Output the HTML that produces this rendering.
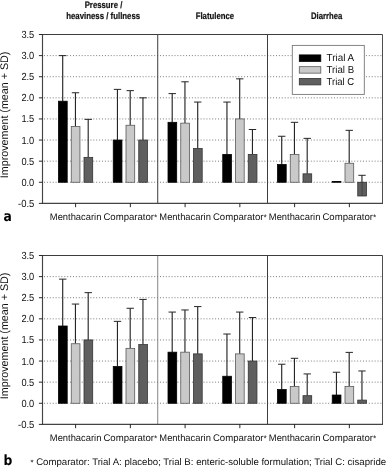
<!DOCTYPE html>
<html lang="en">
<head>
<meta charset="utf-8">
<title>Improvement (mean + SD)</title>
<style>
html,body{margin:0;padding:0;background:#fff;}
body{width:387px;height:469px;overflow:hidden;font-family:"Liberation Sans",Arial,sans-serif;}
svg{display:block;}
</style>
</head>
<body>
<svg width="387" height="469" viewBox="0 0 387 469" text-rendering="geometricPrecision" font-family='"Liberation Sans", Arial, sans-serif'>
<rect width="387" height="469" fill="#ffffff"/>
<g font-weight="bold" font-size="9.4" fill="#111" stroke="#111" stroke-width="0.2">
<text x="84.7" y="7.95" textLength="37.6" lengthAdjust="spacingAndGlyphs">Pressure /</text>
<text x="66.2" y="19.3" textLength="74" lengthAdjust="spacingAndGlyphs">heaviness / fullness</text>
<text x="195.7" y="19.4" textLength="38.5" lengthAdjust="spacingAndGlyphs">Flatulence</text>
<text x="310.9" y="19.4" textLength="31.4" lengthAdjust="spacingAndGlyphs">Diarrhea</text>
</g>
<line x1="44.0" x2="382.5" y1="55.61" y2="55.61" stroke="#6e6e6e" stroke-width="0.9" stroke-dasharray="1 1.9"/>
<line x1="44.0" x2="382.5" y1="76.72" y2="76.72" stroke="#6e6e6e" stroke-width="0.9" stroke-dasharray="1 1.9"/>
<line x1="44.0" x2="382.5" y1="97.83" y2="97.83" stroke="#6e6e6e" stroke-width="0.9" stroke-dasharray="1 1.9"/>
<line x1="44.0" x2="382.5" y1="118.94" y2="118.94" stroke="#6e6e6e" stroke-width="0.9" stroke-dasharray="1 1.9"/>
<line x1="44.0" x2="382.5" y1="140.05" y2="140.05" stroke="#6e6e6e" stroke-width="0.9" stroke-dasharray="1 1.9"/>
<line x1="44.0" x2="382.5" y1="161.16" y2="161.16" stroke="#6e6e6e" stroke-width="0.9" stroke-dasharray="1 1.9"/>
<line x1="44.0" x2="382.5" y1="182.27" y2="182.27" stroke="#6e6e6e" stroke-width="0.9" stroke-dasharray="1 1.9"/>
<line x1="62.70" x2="62.70" y1="55.61" y2="101.21" stroke="#262626" stroke-width="1.15"/>
<line x1="59.05" x2="66.45" y1="55.61" y2="55.61" stroke="#262626" stroke-width="1.0"/>
<rect x="58.50" y="101.21" width="8.7" height="81.06" fill="#000000" stroke="#000000" stroke-width="0.8"/>
<line x1="75.45" x2="75.45" y1="92.76" y2="126.54" stroke="#262626" stroke-width="1.15"/>
<line x1="71.80" x2="79.20" y1="92.76" y2="92.76" stroke="#262626" stroke-width="1.0"/>
<rect x="71.25" y="126.54" width="8.7" height="55.73" fill="#c9c9c9" stroke="#5a5a5a" stroke-width="0.8"/>
<line x1="88.20" x2="88.20" y1="119.36" y2="157.36" stroke="#262626" stroke-width="1.15"/>
<line x1="84.55" x2="91.95" y1="119.36" y2="119.36" stroke="#262626" stroke-width="1.0"/>
<rect x="84.00" y="157.36" width="8.7" height="24.91" fill="#5f5f5f" stroke="#333333" stroke-width="0.8"/>
<line x1="117.45" x2="117.45" y1="89.39" y2="140.05" stroke="#262626" stroke-width="1.15"/>
<line x1="113.80" x2="121.20" y1="89.39" y2="89.39" stroke="#262626" stroke-width="1.0"/>
<rect x="113.25" y="140.05" width="8.7" height="42.22" fill="#000000" stroke="#000000" stroke-width="0.8"/>
<line x1="130.20" x2="130.20" y1="90.65" y2="125.27" stroke="#262626" stroke-width="1.15"/>
<line x1="126.55" x2="133.95" y1="90.65" y2="90.65" stroke="#262626" stroke-width="1.0"/>
<rect x="126.00" y="125.27" width="8.7" height="57.00" fill="#c9c9c9" stroke="#5a5a5a" stroke-width="0.8"/>
<line x1="142.95" x2="142.95" y1="97.83" y2="140.05" stroke="#262626" stroke-width="1.15"/>
<line x1="139.30" x2="146.70" y1="97.83" y2="97.83" stroke="#262626" stroke-width="1.0"/>
<rect x="138.75" y="140.05" width="8.7" height="42.22" fill="#5f5f5f" stroke="#333333" stroke-width="0.8"/>
<line x1="172.20" x2="172.20" y1="93.61" y2="122.32" stroke="#262626" stroke-width="1.15"/>
<line x1="168.55" x2="175.95" y1="93.61" y2="93.61" stroke="#262626" stroke-width="1.0"/>
<rect x="168.00" y="122.32" width="8.7" height="59.95" fill="#000000" stroke="#000000" stroke-width="0.8"/>
<line x1="184.95" x2="184.95" y1="81.79" y2="123.16" stroke="#262626" stroke-width="1.15"/>
<line x1="181.30" x2="188.70" y1="81.79" y2="81.79" stroke="#262626" stroke-width="1.0"/>
<rect x="180.75" y="123.16" width="8.7" height="59.11" fill="#c9c9c9" stroke="#5a5a5a" stroke-width="0.8"/>
<line x1="197.70" x2="197.70" y1="102.05" y2="148.49" stroke="#262626" stroke-width="1.15"/>
<line x1="194.05" x2="201.45" y1="102.05" y2="102.05" stroke="#262626" stroke-width="1.0"/>
<rect x="193.50" y="148.49" width="8.7" height="33.78" fill="#5f5f5f" stroke="#333333" stroke-width="0.8"/>
<line x1="226.95" x2="226.95" y1="102.05" y2="154.40" stroke="#262626" stroke-width="1.15"/>
<line x1="223.30" x2="230.70" y1="102.05" y2="102.05" stroke="#262626" stroke-width="1.0"/>
<rect x="222.75" y="154.40" width="8.7" height="27.87" fill="#000000" stroke="#000000" stroke-width="0.8"/>
<line x1="239.70" x2="239.70" y1="78.83" y2="118.94" stroke="#262626" stroke-width="1.15"/>
<line x1="236.05" x2="243.45" y1="78.83" y2="78.83" stroke="#262626" stroke-width="1.0"/>
<rect x="235.50" y="118.94" width="8.7" height="63.33" fill="#c9c9c9" stroke="#5a5a5a" stroke-width="0.8"/>
<line x1="252.45" x2="252.45" y1="129.50" y2="154.40" stroke="#262626" stroke-width="1.15"/>
<line x1="248.80" x2="256.20" y1="129.50" y2="129.50" stroke="#262626" stroke-width="1.0"/>
<rect x="248.25" y="154.40" width="8.7" height="27.87" fill="#5f5f5f" stroke="#333333" stroke-width="0.8"/>
<line x1="281.70" x2="281.70" y1="136.25" y2="164.54" stroke="#262626" stroke-width="1.15"/>
<line x1="278.05" x2="285.45" y1="136.25" y2="136.25" stroke="#262626" stroke-width="1.0"/>
<rect x="277.50" y="164.54" width="8.7" height="17.73" fill="#000000" stroke="#000000" stroke-width="0.8"/>
<line x1="294.45" x2="294.45" y1="122.32" y2="154.40" stroke="#262626" stroke-width="1.15"/>
<line x1="290.80" x2="298.20" y1="122.32" y2="122.32" stroke="#262626" stroke-width="1.0"/>
<rect x="290.25" y="154.40" width="8.7" height="27.87" fill="#c9c9c9" stroke="#5a5a5a" stroke-width="0.8"/>
<line x1="307.20" x2="307.20" y1="138.36" y2="173.83" stroke="#262626" stroke-width="1.15"/>
<line x1="303.55" x2="310.95" y1="138.36" y2="138.36" stroke="#262626" stroke-width="1.0"/>
<rect x="303.00" y="173.83" width="8.7" height="8.44" fill="#5f5f5f" stroke="#333333" stroke-width="0.8"/>
<rect x="332.25" y="181.43" width="8.7" height="0.84" fill="#000000" stroke="#000000" stroke-width="0.8"/>
<line x1="349.20" x2="349.20" y1="130.34" y2="163.27" stroke="#262626" stroke-width="1.15"/>
<line x1="345.55" x2="352.95" y1="130.34" y2="130.34" stroke="#262626" stroke-width="1.0"/>
<rect x="345.00" y="163.27" width="8.7" height="19.00" fill="#c9c9c9" stroke="#5a5a5a" stroke-width="0.8"/>
<line x1="361.95" x2="361.95" y1="175.30" y2="195.99" stroke="#262626" stroke-width="1.15"/>
<line x1="358.30" x2="365.70" y1="175.30" y2="175.30" stroke="#262626" stroke-width="1.0"/>
<rect x="357.75" y="182.27" width="8.7" height="13.72" fill="#5f5f5f" stroke="#333333" stroke-width="0.8"/>
<line x1="362.10" x2="362.10" y1="182.27" y2="195.99" stroke="#3a3a3a" stroke-width="0.7"/>
<line x1="157.72" x2="157.72" y1="34.5" y2="203.38" stroke="#3d3d3d" stroke-width="1"/>
<line x1="267.50" x2="267.50" y1="34.5" y2="203.38" stroke="#3d3d3d" stroke-width="1"/>
<line x1="42.5" x2="382.5" y1="34.5" y2="34.5" stroke="#3d3d3d" stroke-width="1.05"/>
<line x1="382.5" x2="382.5" y1="34.5" y2="203.38" stroke="#4d4d4d" stroke-width="1"/>
<line x1="42.5" x2="42.5" y1="34.0" y2="203.88" stroke="#444444" stroke-width="1.15"/>
<line x1="42.5" x2="383.0" y1="203.38" y2="203.38" stroke="#444444" stroke-width="1.15"/>
<line x1="38.9" x2="42.5" y1="34.50" y2="34.50" stroke="#111" stroke-width="0.9"/>
<text x="21.40" y="37.95" font-size="10.3" textLength="12.9" lengthAdjust="spacingAndGlyphs" fill="#111">3.5</text>
<line x1="38.9" x2="42.5" y1="55.61" y2="55.61" stroke="#111" stroke-width="0.9"/>
<text x="21.40" y="59.06" font-size="10.3" textLength="12.9" lengthAdjust="spacingAndGlyphs" fill="#111">3.0</text>
<line x1="38.9" x2="42.5" y1="76.72" y2="76.72" stroke="#111" stroke-width="0.9"/>
<text x="21.40" y="80.17" font-size="10.3" textLength="12.9" lengthAdjust="spacingAndGlyphs" fill="#111">2.5</text>
<line x1="38.9" x2="42.5" y1="97.83" y2="97.83" stroke="#111" stroke-width="0.9"/>
<text x="21.40" y="101.28" font-size="10.3" textLength="12.9" lengthAdjust="spacingAndGlyphs" fill="#111">2.0</text>
<line x1="38.9" x2="42.5" y1="118.94" y2="118.94" stroke="#111" stroke-width="0.9"/>
<text x="21.40" y="122.39" font-size="10.3" textLength="12.9" lengthAdjust="spacingAndGlyphs" fill="#111">1.5</text>
<line x1="38.9" x2="42.5" y1="140.05" y2="140.05" stroke="#111" stroke-width="0.9"/>
<text x="21.40" y="143.50" font-size="10.3" textLength="12.9" lengthAdjust="spacingAndGlyphs" fill="#111">1.0</text>
<line x1="38.9" x2="42.5" y1="161.16" y2="161.16" stroke="#111" stroke-width="0.9"/>
<text x="21.40" y="164.61" font-size="10.3" textLength="12.9" lengthAdjust="spacingAndGlyphs" fill="#111">0.5</text>
<line x1="38.9" x2="42.5" y1="182.27" y2="182.27" stroke="#111" stroke-width="0.9"/>
<text x="21.40" y="185.72" font-size="10.3" textLength="12.9" lengthAdjust="spacingAndGlyphs" fill="#111">0.0</text>
<line x1="38.9" x2="42.5" y1="203.38" y2="203.38" stroke="#111" stroke-width="0.9"/>
<text x="18.00" y="206.83" font-size="10.3" textLength="16.3" lengthAdjust="spacingAndGlyphs" fill="#111">-0.5</text>
<line x1="75.60" x2="75.60" y1="203.38" y2="207.18" stroke="#111" stroke-width="0.9"/>
<text x="49.85" y="220.38" font-size="9.6" textLength="51.5" lengthAdjust="spacingAndGlyphs" fill="#111">Menthacarin</text>
<line x1="130.35" x2="130.35" y1="203.38" y2="207.18" stroke="#111" stroke-width="0.9"/>
<text x="103.40" y="220.38" font-size="9.6" textLength="53.9" lengthAdjust="spacingAndGlyphs" fill="#111">Comparator<tspan font-size="8.4" dy="-0.6">*</tspan></text>
<line x1="185.10" x2="185.10" y1="203.38" y2="207.18" stroke="#111" stroke-width="0.9"/>
<text x="159.35" y="220.38" font-size="9.6" textLength="51.5" lengthAdjust="spacingAndGlyphs" fill="#111">Menthacarin</text>
<line x1="239.85" x2="239.85" y1="203.38" y2="207.18" stroke="#111" stroke-width="0.9"/>
<text x="212.90" y="220.38" font-size="9.6" textLength="53.9" lengthAdjust="spacingAndGlyphs" fill="#111">Comparator<tspan font-size="8.4" dy="-0.6">*</tspan></text>
<line x1="294.60" x2="294.60" y1="203.38" y2="207.18" stroke="#111" stroke-width="0.9"/>
<text x="268.85" y="220.38" font-size="9.6" textLength="51.5" lengthAdjust="spacingAndGlyphs" fill="#111">Menthacarin</text>
<line x1="349.35" x2="349.35" y1="203.38" y2="207.18" stroke="#111" stroke-width="0.9"/>
<text x="322.40" y="220.38" font-size="9.6" textLength="53.9" lengthAdjust="spacingAndGlyphs" fill="#111">Comparator<tspan font-size="8.4" dy="-0.6">*</tspan></text>
<text transform="translate(8.0,178.20) rotate(-90)" font-size="11" textLength="126.6" lengthAdjust="spacingAndGlyphs" fill="#111">Improvement (mean + SD)</text>
<line x1="44.0" x2="382.5" y1="276.61" y2="276.61" stroke="#6e6e6e" stroke-width="0.9" stroke-dasharray="1 1.9"/>
<line x1="44.0" x2="382.5" y1="297.72" y2="297.72" stroke="#6e6e6e" stroke-width="0.9" stroke-dasharray="1 1.9"/>
<line x1="44.0" x2="382.5" y1="318.83" y2="318.83" stroke="#6e6e6e" stroke-width="0.9" stroke-dasharray="1 1.9"/>
<line x1="44.0" x2="382.5" y1="339.94" y2="339.94" stroke="#6e6e6e" stroke-width="0.9" stroke-dasharray="1 1.9"/>
<line x1="44.0" x2="382.5" y1="361.05" y2="361.05" stroke="#6e6e6e" stroke-width="0.9" stroke-dasharray="1 1.9"/>
<line x1="44.0" x2="382.5" y1="382.16" y2="382.16" stroke="#6e6e6e" stroke-width="0.9" stroke-dasharray="1 1.9"/>
<line x1="44.0" x2="382.5" y1="403.27" y2="403.27" stroke="#6e6e6e" stroke-width="0.9" stroke-dasharray="1 1.9"/>
<line x1="62.70" x2="62.70" y1="279.14" y2="326.01" stroke="#262626" stroke-width="1.15"/>
<line x1="59.05" x2="66.45" y1="279.14" y2="279.14" stroke="#262626" stroke-width="1.0"/>
<rect x="58.50" y="326.01" width="8.7" height="77.26" fill="#000000" stroke="#000000" stroke-width="0.8"/>
<line x1="75.45" x2="75.45" y1="304.05" y2="343.74" stroke="#262626" stroke-width="1.15"/>
<line x1="71.80" x2="79.20" y1="304.05" y2="304.05" stroke="#262626" stroke-width="1.0"/>
<rect x="71.25" y="343.74" width="8.7" height="59.53" fill="#c9c9c9" stroke="#5a5a5a" stroke-width="0.8"/>
<line x1="88.20" x2="88.20" y1="292.65" y2="339.94" stroke="#262626" stroke-width="1.15"/>
<line x1="84.55" x2="91.95" y1="292.65" y2="292.65" stroke="#262626" stroke-width="1.0"/>
<rect x="84.00" y="339.94" width="8.7" height="63.33" fill="#5f5f5f" stroke="#333333" stroke-width="0.8"/>
<line x1="117.45" x2="117.45" y1="321.36" y2="366.54" stroke="#262626" stroke-width="1.15"/>
<line x1="113.80" x2="121.20" y1="321.36" y2="321.36" stroke="#262626" stroke-width="1.0"/>
<rect x="113.25" y="366.54" width="8.7" height="36.73" fill="#000000" stroke="#000000" stroke-width="0.8"/>
<line x1="130.20" x2="130.20" y1="308.27" y2="348.38" stroke="#262626" stroke-width="1.15"/>
<line x1="126.55" x2="133.95" y1="308.27" y2="308.27" stroke="#262626" stroke-width="1.0"/>
<rect x="126.00" y="348.38" width="8.7" height="54.89" fill="#c9c9c9" stroke="#5a5a5a" stroke-width="0.8"/>
<line x1="142.95" x2="142.95" y1="299.41" y2="344.58" stroke="#262626" stroke-width="1.15"/>
<line x1="139.30" x2="146.70" y1="299.41" y2="299.41" stroke="#262626" stroke-width="1.0"/>
<rect x="138.75" y="344.58" width="8.7" height="58.69" fill="#5f5f5f" stroke="#333333" stroke-width="0.8"/>
<line x1="172.20" x2="172.20" y1="312.07" y2="352.18" stroke="#262626" stroke-width="1.15"/>
<line x1="168.55" x2="175.95" y1="312.07" y2="312.07" stroke="#262626" stroke-width="1.0"/>
<rect x="168.00" y="352.18" width="8.7" height="51.09" fill="#000000" stroke="#000000" stroke-width="0.8"/>
<line x1="184.95" x2="184.95" y1="309.96" y2="352.18" stroke="#262626" stroke-width="1.15"/>
<line x1="181.30" x2="188.70" y1="309.96" y2="309.96" stroke="#262626" stroke-width="1.0"/>
<rect x="180.75" y="352.18" width="8.7" height="51.09" fill="#c9c9c9" stroke="#5a5a5a" stroke-width="0.8"/>
<line x1="197.70" x2="197.70" y1="306.59" y2="353.87" stroke="#262626" stroke-width="1.15"/>
<line x1="194.05" x2="201.45" y1="306.59" y2="306.59" stroke="#262626" stroke-width="1.0"/>
<rect x="193.50" y="353.87" width="8.7" height="49.40" fill="#5f5f5f" stroke="#333333" stroke-width="0.8"/>
<line x1="226.95" x2="226.95" y1="334.03" y2="376.25" stroke="#262626" stroke-width="1.15"/>
<line x1="223.30" x2="230.70" y1="334.03" y2="334.03" stroke="#262626" stroke-width="1.0"/>
<rect x="222.75" y="376.25" width="8.7" height="27.02" fill="#000000" stroke="#000000" stroke-width="0.8"/>
<line x1="239.70" x2="239.70" y1="312.07" y2="353.87" stroke="#262626" stroke-width="1.15"/>
<line x1="236.05" x2="243.45" y1="312.07" y2="312.07" stroke="#262626" stroke-width="1.0"/>
<rect x="235.50" y="353.87" width="8.7" height="49.40" fill="#c9c9c9" stroke="#5a5a5a" stroke-width="0.8"/>
<line x1="252.45" x2="252.45" y1="317.56" y2="361.05" stroke="#262626" stroke-width="1.15"/>
<line x1="248.80" x2="256.20" y1="317.56" y2="317.56" stroke="#262626" stroke-width="1.0"/>
<rect x="248.25" y="361.05" width="8.7" height="42.22" fill="#5f5f5f" stroke="#333333" stroke-width="0.8"/>
<line x1="281.70" x2="281.70" y1="364.22" y2="389.55" stroke="#262626" stroke-width="1.15"/>
<line x1="278.05" x2="285.45" y1="364.22" y2="364.22" stroke="#262626" stroke-width="1.0"/>
<rect x="277.50" y="389.55" width="8.7" height="13.72" fill="#000000" stroke="#000000" stroke-width="0.8"/>
<line x1="294.45" x2="294.45" y1="358.31" y2="386.59" stroke="#262626" stroke-width="1.15"/>
<line x1="290.80" x2="298.20" y1="358.31" y2="358.31" stroke="#262626" stroke-width="1.0"/>
<rect x="290.25" y="386.59" width="8.7" height="16.68" fill="#c9c9c9" stroke="#5a5a5a" stroke-width="0.8"/>
<line x1="307.20" x2="307.20" y1="373.93" y2="395.67" stroke="#262626" stroke-width="1.15"/>
<line x1="303.55" x2="310.95" y1="373.93" y2="373.93" stroke="#262626" stroke-width="1.0"/>
<rect x="303.00" y="395.67" width="8.7" height="7.60" fill="#5f5f5f" stroke="#333333" stroke-width="0.8"/>
<line x1="336.45" x2="336.45" y1="372.24" y2="395.04" stroke="#262626" stroke-width="1.15"/>
<line x1="332.80" x2="340.20" y1="372.24" y2="372.24" stroke="#262626" stroke-width="1.0"/>
<rect x="332.25" y="395.04" width="8.7" height="8.23" fill="#000000" stroke="#000000" stroke-width="0.8"/>
<line x1="349.20" x2="349.20" y1="352.39" y2="386.38" stroke="#262626" stroke-width="1.15"/>
<line x1="345.55" x2="352.95" y1="352.39" y2="352.39" stroke="#262626" stroke-width="1.0"/>
<rect x="345.00" y="386.38" width="8.7" height="16.89" fill="#c9c9c9" stroke="#5a5a5a" stroke-width="0.8"/>
<line x1="361.95" x2="361.95" y1="370.97" y2="400.10" stroke="#262626" stroke-width="1.15"/>
<line x1="358.30" x2="365.70" y1="370.97" y2="370.97" stroke="#262626" stroke-width="1.0"/>
<rect x="357.75" y="400.10" width="8.7" height="3.17" fill="#5f5f5f" stroke="#333333" stroke-width="0.8"/>
<line x1="157.72" x2="157.72" y1="255.5" y2="424.38" stroke="#777" stroke-width="0.9"/>
<line x1="267.50" x2="267.50" y1="255.5" y2="424.38" stroke="#3d3d3d" stroke-width="1"/>
<line x1="42.5" x2="382.5" y1="255.5" y2="255.5" stroke="#3d3d3d" stroke-width="1.05"/>
<line x1="382.5" x2="382.5" y1="255.5" y2="424.38" stroke="#4d4d4d" stroke-width="1"/>
<line x1="42.5" x2="42.5" y1="255.0" y2="424.88" stroke="#444444" stroke-width="1.15"/>
<line x1="42.5" x2="383.0" y1="424.38" y2="424.38" stroke="#444444" stroke-width="1.15"/>
<line x1="38.9" x2="42.5" y1="255.50" y2="255.50" stroke="#111" stroke-width="0.9"/>
<text x="21.40" y="258.95" font-size="10.3" textLength="12.9" lengthAdjust="spacingAndGlyphs" fill="#111">3.5</text>
<line x1="38.9" x2="42.5" y1="276.61" y2="276.61" stroke="#111" stroke-width="0.9"/>
<text x="21.40" y="280.06" font-size="10.3" textLength="12.9" lengthAdjust="spacingAndGlyphs" fill="#111">3.0</text>
<line x1="38.9" x2="42.5" y1="297.72" y2="297.72" stroke="#111" stroke-width="0.9"/>
<text x="21.40" y="301.17" font-size="10.3" textLength="12.9" lengthAdjust="spacingAndGlyphs" fill="#111">2.5</text>
<line x1="38.9" x2="42.5" y1="318.83" y2="318.83" stroke="#111" stroke-width="0.9"/>
<text x="21.40" y="322.28" font-size="10.3" textLength="12.9" lengthAdjust="spacingAndGlyphs" fill="#111">2.0</text>
<line x1="38.9" x2="42.5" y1="339.94" y2="339.94" stroke="#111" stroke-width="0.9"/>
<text x="21.40" y="343.39" font-size="10.3" textLength="12.9" lengthAdjust="spacingAndGlyphs" fill="#111">1.5</text>
<line x1="38.9" x2="42.5" y1="361.05" y2="361.05" stroke="#111" stroke-width="0.9"/>
<text x="21.40" y="364.50" font-size="10.3" textLength="12.9" lengthAdjust="spacingAndGlyphs" fill="#111">1.0</text>
<line x1="38.9" x2="42.5" y1="382.16" y2="382.16" stroke="#111" stroke-width="0.9"/>
<text x="21.40" y="385.61" font-size="10.3" textLength="12.9" lengthAdjust="spacingAndGlyphs" fill="#111">0.5</text>
<line x1="38.9" x2="42.5" y1="403.27" y2="403.27" stroke="#111" stroke-width="0.9"/>
<text x="21.40" y="406.72" font-size="10.3" textLength="12.9" lengthAdjust="spacingAndGlyphs" fill="#111">0.0</text>
<line x1="38.9" x2="42.5" y1="424.38" y2="424.38" stroke="#111" stroke-width="0.9"/>
<text x="18.00" y="427.83" font-size="10.3" textLength="16.3" lengthAdjust="spacingAndGlyphs" fill="#111">-0.5</text>
<line x1="75.60" x2="75.60" y1="424.38" y2="428.18" stroke="#111" stroke-width="0.9"/>
<text x="49.85" y="441.38" font-size="9.6" textLength="51.5" lengthAdjust="spacingAndGlyphs" fill="#111">Menthacarin</text>
<line x1="130.35" x2="130.35" y1="424.38" y2="428.18" stroke="#111" stroke-width="0.9"/>
<text x="103.40" y="441.38" font-size="9.6" textLength="53.9" lengthAdjust="spacingAndGlyphs" fill="#111">Comparator<tspan font-size="8.4" dy="-0.6">*</tspan></text>
<line x1="185.10" x2="185.10" y1="424.38" y2="428.18" stroke="#111" stroke-width="0.9"/>
<text x="159.35" y="441.38" font-size="9.6" textLength="51.5" lengthAdjust="spacingAndGlyphs" fill="#111">Menthacarin</text>
<line x1="239.85" x2="239.85" y1="424.38" y2="428.18" stroke="#111" stroke-width="0.9"/>
<text x="212.90" y="441.38" font-size="9.6" textLength="53.9" lengthAdjust="spacingAndGlyphs" fill="#111">Comparator<tspan font-size="8.4" dy="-0.6">*</tspan></text>
<line x1="294.60" x2="294.60" y1="424.38" y2="428.18" stroke="#111" stroke-width="0.9"/>
<text x="268.85" y="441.38" font-size="9.6" textLength="51.5" lengthAdjust="spacingAndGlyphs" fill="#111">Menthacarin</text>
<line x1="349.35" x2="349.35" y1="424.38" y2="428.18" stroke="#111" stroke-width="0.9"/>
<text x="322.40" y="441.38" font-size="9.6" textLength="53.9" lengthAdjust="spacingAndGlyphs" fill="#111">Comparator<tspan font-size="8.4" dy="-0.6">*</tspan></text>
<text transform="translate(8.0,399.20) rotate(-90)" font-size="11" textLength="126.6" lengthAdjust="spacingAndGlyphs" fill="#111">Improvement (mean + SD)</text>
<rect x="292.3" y="45.4" width="72" height="49" fill="#fff" stroke="#777" stroke-width="0.9"/>
<rect x="299.3" y="54.90" width="21.5" height="6.5" fill="#000000" stroke="#000000" stroke-width="0.8"/>
<text x="326.5" y="61.20" font-size="10.2" textLength="27.7" lengthAdjust="spacingAndGlyphs" fill="#111">Trial A</text>
<rect x="299.3" y="66.65" width="21.5" height="6.5" fill="#c9c9c9" stroke="#5a5a5a" stroke-width="0.8"/>
<text x="326.5" y="72.95" font-size="10.2" textLength="27.7" lengthAdjust="spacingAndGlyphs" fill="#111">Trial B</text>
<rect x="299.3" y="78.40" width="21.5" height="6.5" fill="#5f5f5f" stroke="#333333" stroke-width="0.8"/>
<text x="326.5" y="84.70" font-size="10.2" textLength="27.7" lengthAdjust="spacingAndGlyphs" fill="#111">Trial C</text>
<text transform="translate(3.5,221.3) scale(0.88,1)" font-family='"DejaVu Sans", "Liberation Sans", sans-serif' font-size="14" font-weight="bold" fill="#000">a</text>
<text transform="translate(3.4,464.5) scale(0.88,1)" font-family='"DejaVu Sans", "Liberation Sans", sans-serif' font-size="14" font-weight="bold" fill="#000">b</text>
<text x="30.4" y="465.4" font-size="9.6" textLength="355.7" lengthAdjust="spacingAndGlyphs" fill="#111"><tspan font-size="7.8" dy="-0.8">*</tspan><tspan dy="0.8"> Comparator: Trial A: placebo; Trial B: enteric-soluble formulation; Trial C: cisapride</tspan></text>
</svg>
</body>
</html>
